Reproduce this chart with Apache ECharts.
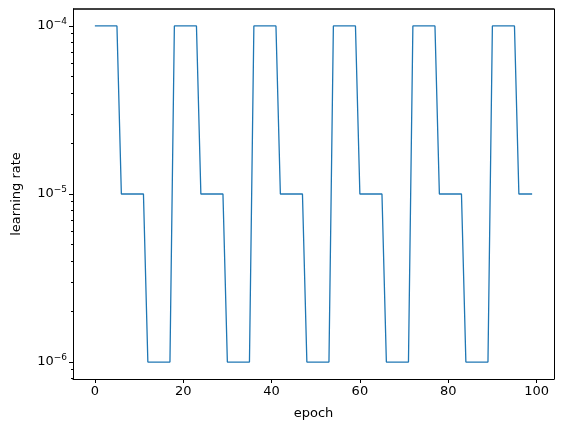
<!DOCTYPE html><html><head><meta charset="utf-8">
<script src="https://cdn.jsdelivr.net/npm/echarts@6/dist/echarts.min.js"></script>
<style>html,body{margin:0;padding:0;background:#fff}#c{width:578px;height:432px}</style></head>
<body><div id="c"></div><script>
const epochs = Array.from({length:100},(_, i)=>i);
const learningRate = [
1e-4,1e-4,1e-4,1e-4,1e-4,1e-4,1e-5,1e-5,1e-5,1e-5,1e-5,1e-5,1e-6,1e-6,1e-6,1e-6,1e-6,1e-6,
1e-4,1e-4,1e-4,1e-4,1e-4,1e-4,1e-5,1e-5,1e-5,1e-5,1e-5,1e-5,1e-6,1e-6,1e-6,1e-6,1e-6,1e-6,
1e-4,1e-4,1e-4,1e-4,1e-4,1e-4,1e-5,1e-5,1e-5,1e-5,1e-5,1e-5,1e-6,1e-6,1e-6,1e-6,1e-6,1e-6,
1e-4,1e-4,1e-4,1e-4,1e-4,1e-4,1e-5,1e-5,1e-5,1e-5,1e-5,1e-5,1e-6,1e-6,1e-6,1e-6,1e-6,1e-6,
1e-4,1e-4,1e-4,1e-4,1e-4,1e-4,1e-5,1e-5,1e-5,1e-5,1e-5,1e-5,1e-6,1e-6,1e-6,1e-6,1e-6,1e-6,
1e-4,1e-4,1e-4,1e-4,1e-4,1e-4,1e-5,1e-5,1e-5,1e-5];
const xTicks = [0,20,40,60,80,100];
const yMajor = [-6,-5,-4];
const yMinor = [];
[-7,-6,-5,-4].forEach(e=>{for(let m=2;m<=9;m++){const v=e+Math.log10(m); if(v>-6.101&&v<-3.899) yMinor.push(v);}});
const font = 'DejaVu Sans';
const c = echarts.init(document.getElementById('c'));
c.setOption({
  animation:false,
  grid:{left:73,right:24,top:9,bottom:53,containLabel:false},
  xAxis:{type:'value',min:-4.95,max:103.95,name:'epoch',nameLocation:'middle',nameGap:28,
    nameTextStyle:{color:'#000',fontSize:13,fontFamily:font},
    axisLine:{onZero:false,lineStyle:{color:'#000',width:1}},
    axisTick:{length:4,inside:false,customValues:xTicks,lineStyle:{color:'#000'}},
    axisLabel:{customValues:xTicks,color:'#000',fontSize:13,fontFamily:font,margin:6},
    splitLine:{show:false}},
  yAxis:[{type:'value',min:-6.101,max:-3.899,name:'learning rate',nameLocation:'middle',nameGap:50,
    nameTextStyle:{color:'#000',fontSize:13,fontFamily:font},
    axisLine:{show:true,onZero:false,lineStyle:{color:'#000',width:1}},
    axisTick:{length:4,customValues:yMajor,lineStyle:{color:'#000'}},
    axisLabel:{customValues:yMajor,margin:6,fontFamily:font,
      formatter:v=>'{b|10}{s|−'+Math.round(-v)+'}',
      rich:{b:{fontSize:13,color:'#000',fontFamily:font},s:{fontSize:9,color:'#000',fontFamily:font,verticalAlign:'top',padding:[0,0,8,0]}}},
    splitLine:{show:false}},
   {type:'value',min:-6.101,max:-3.899,position:'left',offset:0,
    axisLine:{show:false,onZero:false},axisLabel:{show:false},splitLine:{show:false},
    axisTick:{show:true,length:2,customValues:yMinor,lineStyle:{color:'#000'}}},
   {type:'value',min:-6.101,max:-3.899,position:'right',
    axisLine:{show:true,onZero:false,lineStyle:{color:'#000'}},axisLabel:{show:false},axisTick:{show:false},splitLine:{show:false}}],
  graphic:[{type:'rect',shape:{x:73,y:9,width:481,height:0},style:{stroke:'#000',lineWidth:1,fill:null}}],
  series:[{type:'line',showSymbol:false,yAxisIndex:0,
    data:epochs.map((e,i)=>[e,Math.log10(learningRate[i])]),
    lineStyle:{color:'#1f77b4',width:1.3}}]
});
</script></body></html>
